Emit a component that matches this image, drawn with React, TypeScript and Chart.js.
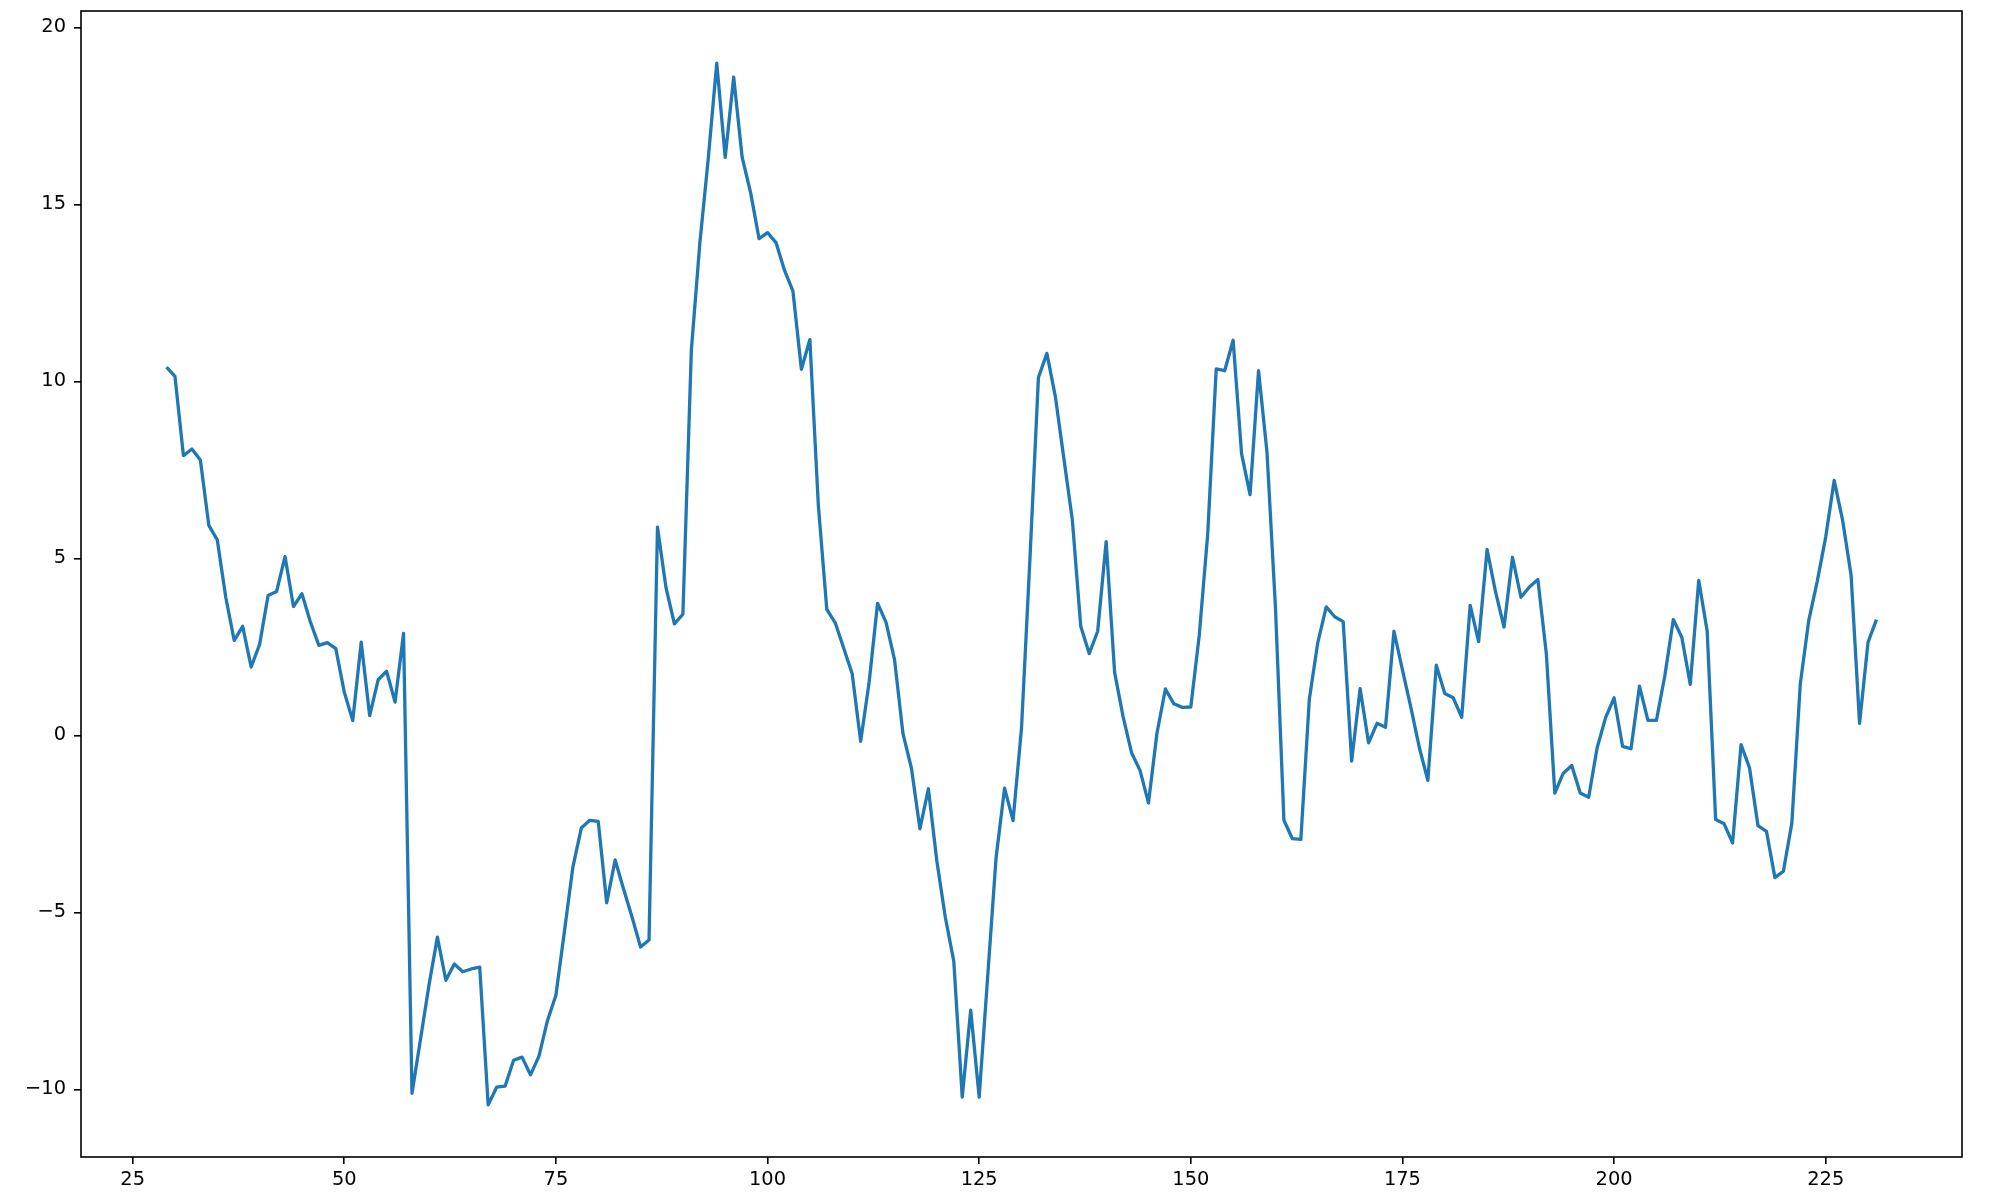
import React, { useEffect, useRef } from "react";
import { Chart, registerables } from "chart.js";

Chart.register(...registerables);

const xStart = 29;
const yValues: number[] = [
  10.40, 10.14, 7.90, 8.09, 7.78, 5.93, 5.52, 3.90, 2.68, 3.08,
  1.93, 2.57, 3.95, 4.06, 5.05, 3.64, 4.00, 3.20, 2.54, 2.62,
  2.45, 1.22, 0.42, 2.63, 0.56, 1.57, 1.81, 0.94, 2.88, -10.11,
  -8.59, -7.07, -5.70, -6.92, -6.46, -6.68, -6.60, -6.55, -10.44, -9.94,
  -9.91, -9.18, -9.09, -9.59, -9.06, -8.06, -7.34, -5.55, -3.73, -2.62,
  -2.40, -2.43, -4.73, -3.52, -4.35, -5.14, -5.98, -5.78, 5.88, 4.18,
  3.15, 3.42, 10.88, 13.90, 16.30, 18.99, 16.33, 18.59, 16.33, 15.33,
  14.03, 14.20, 13.92, 13.14, 12.55, 10.34, 11.18, 6.50, 3.56, 3.18,
  2.46, 1.74, -0.17, 1.50, 3.73, 3.19, 2.14, 0.05, -0.93, -2.64,
  -1.51, -3.55, -5.14, -6.38, -10.22, -7.76, -10.22, -6.83, -3.45, -1.49,
  -2.41, 0.20, 5.00, 10.11, 10.79, 9.57, 7.83, 6.10, 3.08, 2.31,
  2.94, 5.47, 1.78, 0.53, -0.49, -0.99, -1.91, 0.06, 1.31, 0.89,
  0.79, 0.80, 2.83, 5.70, 10.35, 10.30, 11.16, 7.95, 6.80, 10.30,
  8.00, 3.61, -2.40, -2.92, -2.94, 1.02, 2.62, 3.63, 3.35, 3.21,
  -0.73, 1.32, -0.21, 0.34, 0.23, 2.94, 1.85, 0.78, -0.35, -1.27,
  1.98, 1.18, 1.06, 0.51, 3.67, 2.65, 5.25, 4.05, 3.06, 5.03,
  3.90, 4.19, 4.40, 2.30, -1.63, -1.07, -0.85, -1.63, -1.75, -0.35,
  0.50, 1.06, -0.31, -0.38, 1.39, 0.42, 0.42, 1.69, 3.27, 2.77,
  1.44, 4.38, 2.94, -2.38, -2.50, -3.04, -0.26, -0.92, -2.55, -2.71,
  -4.02, -3.84, -2.48, 1.46, 3.25, 4.35, 5.60, 7.20, 6.07, 4.52,
  0.34, 2.63, 3.27,
];
const xTicks: number[] = [25, 50, 75, 100, 125, 150, 175, 200, 225];
const yTicks: number[] = [-10, -5, 0, 5, 10, 15, 20];

const FONT = { family: "'DejaVu Sans', sans-serif", size: 19.4 };

const boxPlugin = {
  id: "box",
  afterDraw(chart: any) {
    const { ctx, chartArea } = chart;
    ctx.save();
    ctx.strokeStyle = "#000";
    ctx.lineWidth = 1.6;
    ctx.strokeRect(chartArea.left, chartArea.top, chartArea.right - chartArea.left, chartArea.bottom - chartArea.top);
    ctx.restore();
  },
};

const fmt = (v: number) => (v < 0 ? "\u2212" + Math.abs(v) : String(v));

export default function App() {
  const ref = useRef<HTMLCanvasElement>(null);
  useEffect(() => {
    document.body.style.margin = "0";
    const pts = yValues.map((y, i) => ({ x: xStart + i, y }));
    const xs = pts.map((p) => p.x);
    const xMin = Math.min(...xs), xMax = Math.max(...xs);
    const yMin = Math.min(...yValues), yMax = Math.max(...yValues);
    const xm = (xMax - xMin) * 0.05, ym = (yMax - yMin) * 0.05;
    const chart = new Chart(ref.current!, {
      type: "line",
      data: {
        datasets: [
          {
            data: pts,
            borderColor: "#1f77b4",
            borderWidth: 3.3,
            pointRadius: 0,
            tension: 0,
            fill: false,
            borderJoinStyle: "round",
            borderCapStyle: "butt",
          },
        ],
      },
      options: {
        animation: false,
        responsive: true,
        maintainAspectRatio: false,
        layout: { padding: { top: 11, right: 28, left: 0, bottom: 0 } },
        plugins: { legend: { display: false }, tooltip: { enabled: false } },
        scales: {
          x: {
            type: "linear",
            min: xMin - xm,
            max: xMax + xm,
            afterBuildTicks: (s: any) => {
              s.ticks = xTicks.map((v) => ({ value: v }));
            },
            afterFit: (s: any) => {
              s.height = 44;
              s.paddingLeft = 0;
              s.paddingRight = 0;
              s.paddingTop = 0;
              s.paddingBottom = 0;
            },
            grid: { display: true, drawOnChartArea: false, drawTicks: true, tickLength: 7, color: "#000", lineWidth: 1.6 },
            border: { display: false },
            ticks: { color: "#000", font: FONT, padding: 4, maxRotation: 0, autoSkip: false, callback: (v: any) => fmt(Number(v)) },
          },
          y: {
            type: "linear",
            min: yMin - ym,
            max: yMax + ym,
            afterBuildTicks: (s: any) => {
              s.ticks = yTicks.map((v) => ({ value: v }));
            },
            afterFit: (s: any) => {
              s.width = 81;
              s.paddingLeft = 0;
              s.paddingRight = 0;
              s.paddingTop = 0;
              s.paddingBottom = 0;
            },
            grid: { display: true, drawOnChartArea: false, drawTicks: true, tickLength: 7, color: "#000", lineWidth: 1.6 },
            border: { display: false },
            ticks: { color: "#000", font: FONT, padding: 8, autoSkip: false, callback: (v: any) => fmt(Number(v)) },
          },
        },
      },
      plugins: [boxPlugin],
    });
    return () => chart.destroy();
  }, []);
  return (
    <div style={{ position: "absolute", left: 0, top: 0, width: 1990, height: 1201 }}>
      <canvas ref={ref} />
    </div>
  );
}
